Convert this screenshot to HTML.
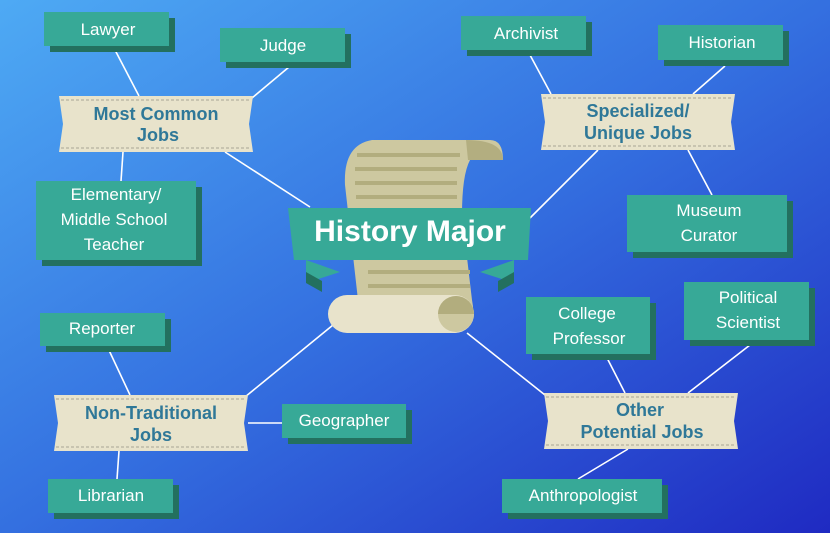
<!DOCTYPE html>
<html><head><meta charset="utf-8"><style>
html,body{margin:0;padding:0;width:830px;height:533px;overflow:hidden}
svg{display:block}
.bt{font-family:"Liberation Sans",sans-serif;font-size:17px;fill:#fff;text-anchor:middle}
.bn{font-family:"Liberation Sans",sans-serif;font-size:18px;font-weight:bold;fill:#2f7898;text-anchor:middle}
</style></head><body>
<svg width="830" height="533" viewBox="0 0 830 533" xmlns="http://www.w3.org/2000/svg">
<defs>
<linearGradient id="bg" x1="0" y1="0" x2="1" y2="1">
<stop offset="0" stop-color="#4eaaf4"/><stop offset="0.5" stop-color="#3470e0"/><stop offset="1" stop-color="#1f2ac2"/>
</linearGradient>
</defs>
<rect width="830" height="533" fill="url(#bg)"/>
<g stroke="#fff" stroke-width="1.6" fill="none">
<line x1="115" y1="50" x2="139" y2="96"/><line x1="289" y1="67" x2="252" y2="98"/>
<line x1="123" y1="152" x2="121" y2="181"/><line x1="225" y1="152" x2="310" y2="207"/>
<line x1="530" y1="55" x2="551" y2="94"/><line x1="725" y1="66" x2="693" y2="94"/>
<line x1="688" y1="150" x2="712" y2="195"/><line x1="598" y1="150" x2="530" y2="218"/>
<line x1="107" y1="346" x2="130" y2="395"/><line x1="248" y1="423" x2="282" y2="423"/>
<line x1="117" y1="479" x2="119" y2="451"/><line x1="245" y1="397" x2="333" y2="325"/>
<line x1="605" y1="354" x2="625" y2="393"/><line x1="750" y1="345" x2="688" y2="393"/>
<line x1="578" y1="479" x2="628" y2="449"/><line x1="545" y1="395" x2="467" y2="333"/>
</g>
<!-- scroll -->
<path d="M372 140 H490 Q503 140 503 160 H470 Q462 175 462 215 L472 300 Q478 330 455 333 L362 333 L358 300 L345 185 Q343 145 372 140 Z" fill="#cdc8a0"/>
<path d="M466 140 Q503 140 503 160 H468 Z" fill="#b3ae80"/>
<g stroke="#b2ad7e" stroke-width="4">
<line x1="357" y1="155" x2="460" y2="155"/><line x1="355" y1="169" x2="457" y2="169"/>
<line x1="355" y1="183" x2="457" y2="183"/><line x1="356" y1="197" x2="457" y2="197"/>
<line x1="368" y1="272" x2="470" y2="272"/><line x1="368" y1="286" x2="470" y2="286"/>
</g>
<rect x="328" y="295" width="146" height="38" rx="19" fill="#e8e3cb"/>
<circle cx="456" cy="314" r="18" fill="#cdc8a0"/>
<path d="M438 314 A18 18 0 0 1 474 314 Z" fill="#b2ad7e"/>
<!-- ribbon -->
<polygon points="306,260 340,272 306,283" fill="#37a997"/>
<polygon points="306,272 322,281 322,292 306,283" fill="#23705f"/>
<polygon points="514,260 480,272 514,283" fill="#37a997"/>
<polygon points="514,272 498,281 498,292 514,283" fill="#23705f"/>
<polygon points="288,208 531,208 528,260 294,260" fill="#37a997"/>
<text x="410" y="241" font-family="Liberation Sans,sans-serif" font-size="30" font-weight="bold" fill="#fff" text-anchor="middle">History Major</text>
<!-- boxes -->
<g fill="#23705f">
<rect x="50" y="18" width="125" height="34"/><rect x="226" y="34" width="125" height="34"/>
<rect x="42" y="187" width="160" height="79"/><rect x="467" y="22" width="125" height="34"/>
<rect x="664" y="31" width="125" height="35"/><rect x="633" y="201" width="160" height="57"/>
<rect x="46" y="319" width="125" height="33"/><rect x="288" y="410" width="124" height="34"/>
<rect x="54" y="485" width="125" height="34"/><rect x="532" y="303" width="124" height="57"/>
<rect x="690" y="288" width="125" height="58"/><rect x="508" y="485" width="160" height="34"/>
</g>
<g fill="#37a997">
<rect x="44" y="12" width="125" height="34"/><rect x="220" y="28" width="125" height="34"/>
<rect x="36" y="181" width="160" height="79"/><rect x="461" y="16" width="125" height="34"/>
<rect x="658" y="25" width="125" height="35"/><rect x="627" y="195" width="160" height="57"/>
<rect x="40" y="313" width="125" height="33"/><rect x="282" y="404" width="124" height="34"/>
<rect x="48" y="479" width="125" height="34"/><rect x="526" y="297" width="124" height="57"/>
<rect x="684" y="282" width="125" height="58"/><rect x="502" y="479" width="160" height="34"/>
</g>
<text class="bt" x="108" y="35">Lawyer</text>
<text class="bt" x="283" y="51">Judge</text>
<text class="bt" x="116" y="200">Elementary/</text>
<text class="bt" x="114" y="225">Middle School</text>
<text class="bt" x="114" y="250">Teacher</text>
<text class="bt" x="526" y="39">Archivist</text>
<text class="bt" x="722" y="48">Historian</text>
<text class="bt" x="709" y="216">Museum</text>
<text class="bt" x="709" y="241">Curator</text>
<text class="bt" x="102" y="334">Reporter</text>
<text class="bt" x="344" y="426">Geographer</text>
<text class="bt" x="111" y="501">Librarian</text>
<text class="bt" x="587" y="319">College</text>
<text class="bt" x="589" y="344">Professor</text>
<text class="bt" x="748" y="303">Political</text>
<text class="bt" x="748" y="328">Scientist</text>
<text class="bt" x="583" y="501">Anthropologist</text>
<!-- banners -->
<g fill="#e8e3cb">
<polygon points="59,96 253,96 249,124 253,152 59,152 63,124"/>
<polygon points="541,94 735,94 731,122 735,150 541,150 545,122"/>
<polygon points="54,395 248,395 244,423 248,451 54,451 58,423"/>
<polygon points="544,393 738,393 734,421 738,449 544,449 548,421"/>
</g>
<g stroke="#a8a595" stroke-width="1" stroke-dasharray="3,2">
<line x1="61" y1="100" x2="251" y2="100"/><line x1="61" y1="148" x2="251" y2="148"/>
<line x1="543" y1="98" x2="733" y2="98"/><line x1="543" y1="146" x2="733" y2="146"/>
<line x1="56" y1="399" x2="246" y2="399"/><line x1="56" y1="447" x2="246" y2="447"/>
<line x1="546" y1="397" x2="736" y2="397"/><line x1="546" y1="445" x2="736" y2="445"/>
</g>
<text class="bn" x="156" y="120">Most Common</text>
<text class="bn" x="158" y="141">Jobs</text>
<text class="bn" x="638" y="117">Specialized/</text>
<text class="bn" x="638" y="139">Unique Jobs</text>
<text class="bn" x="151" y="419">Non-Traditional</text>
<text class="bn" x="151" y="441">Jobs</text>
<text class="bn" x="640" y="416">Other</text>
<text class="bn" x="642" y="438">Potential Jobs</text>
</svg>
</body></html>
